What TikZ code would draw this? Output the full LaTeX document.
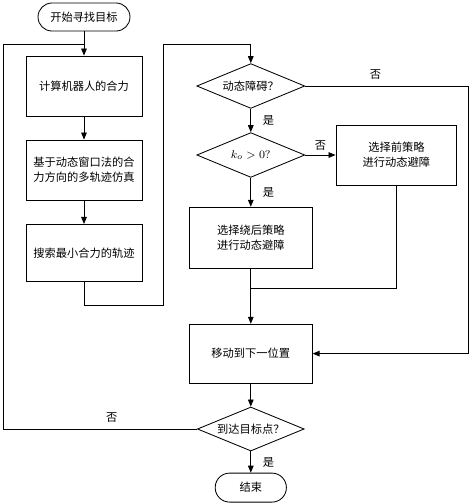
\documentclass[tikz,border=0pt]{standalone}
\usepackage{fontspec}
\newfontfamily\cjk{Noto Sans CJK SC}
\usetikzlibrary{shapes.geometric, arrows.meta}
\begin{document}
\begin{tikzpicture}
  [
    every node/.style = {font = \cjk\footnotesize},
    box/.style = {draw, rectangle, align = center, minimum width = 2.9cm, minimum height = 1.5cm},
    terminal/.style = {draw, rectangle, rounded corners = 0.35cm, minimum width = 2.3cm, minimum height = 0.7cm},
    decision/.style = {draw, diamond, aspect = 2.4, inner sep = 0pt, minimum width = 2.7cm, minimum height = 1.12cm},
    arr/.style = {-{Triangle[length = 5pt, width = 4pt]}},
    line width = 0.6pt
  ]
    \useasboundingbox (0,0) rectangle (11.85,-12.6);
    \linespread{1.1}
    \node (start) [terminal] at (2.1,-0.425) {开始寻找目标};
    \node (b1) [box] at (2.1,-2.15) {计算机器人的合力};
    \node (b2) [box] at (2.1,-4.25) {基于动态窗口法的合\\力方向的多轨迹仿真};
    \node (b3) [box, minimum height = 1.43cm] at (2.1,-6.325) {搜索最小合力的轨迹};
    \node (d1) [decision] at (6.27,-2.15) {动态障碍？};
    \node (d2) [decision] at (6.27,-3.875) {$k_o > 0?$};
    \node (front) [box, minimum width = 3.02cm] at (9.91,-3.875) {选择前策略\\进行动态避障};
    \node (back) [box, minimum width = 3.07cm, minimum height = 1.52cm] at (6.27,-5.94) {选择绕后策略\\进行动态避障};
    \node (move) [box, minimum width = 3.07cm, minimum height = 1.47cm] at (6.27,-8.84) {移动到下一位置};
    \node (d3) [decision, minimum width = 2.67cm, minimum height = 1.1cm] at (6.27,-10.725) {到达目标点？};
    \node (end) [terminal, minimum width = 1.78cm, minimum height = 0.725cm, rounded corners = 0.36cm] at (6.27,-12.19) {结束};
    \coordinate (loop) at (2.1,-1.1);
    \coordinate (loopL) at (0.075,-1.1);
    \coordinate (join) at (6.27,-7.2);
    \draw [arr] (start) -- (b1);
    \draw [arr] (b1) -- (b2);
    \draw [arr] (b2) -- (b3);
    \draw [arr] (b3.south) -- ++(0,-0.59) -| (4.075,-1.1) -| (d1.north);
    \draw [arr] (d1.east) -- node [pos = 0.43, above = 1pt] {否} ++(4.08,0) |- (move.east);
    \draw [arr] (d1) -- node [right = 5pt] {是} (d2);
    \draw [arr] (d2) -- node [above] {否} (front);
    \draw [arr] (d2) -- node [right = 5pt] {是} (back);
    \draw [arr] (back) -- (move);
    \draw (front.south) |- (join);
    \draw [arr] (move) -- (d3);
    \draw (d3.west) -| node [pos = 0.22, above = 1pt] {否} (loopL) -- (loop);
    \draw [arr] (d3) -- node [right = 5pt] {是} (end);
  \end{tikzpicture}
\end{document}
